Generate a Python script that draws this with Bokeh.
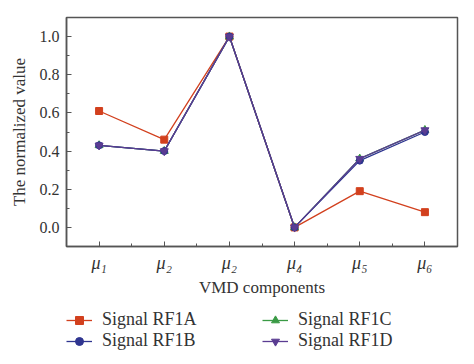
from bokeh.plotting import figure
from bokeh.layouts import column
from bokeh.models import FixedTicker, Legend, LegendItem, Range1d, NumeralTickFormatter
from bokeh.embed import file_html
from bokeh.resources import INLINE

components = ["μ₁", "μ₂", "μ₂", "μ₄", "μ₅", "μ₆"]
x_pos = [1, 2, 3, 4, 5, 6]
rf1a = [0.61, 0.46, 1.00, 0.00, 0.19, 0.08]
rf1b = [0.43, 0.40, 1.00, 0.00, 0.35, 0.50]
rf1c = [0.43, 0.40, 1.00, 0.00, 0.36, 0.51]
rf1d = [0.43, 0.40, 1.00, 0.00, 0.36, 0.51]
y_ticks = [0.0, 0.2, 0.4, 0.6, 0.8, 1.0]
series_labels = ["Signal RF1A", "Signal RF1B", "Signal RF1C", "Signal RF1D"]

FONT = "Liberation Serif"
RED = "#d2401e"
BLUE = "#2f3590"
GREEN = "#3a9a45"
PURPLE = "#5a3c92"

p = figure(frame_width=391, frame_height=229, output_backend="svg",
           toolbar_location=None, x_range=Range1d(0.5, 6.5), y_range=Range1d(-0.1, 1.1),
           min_border_left=66, min_border_top=17, min_border_right=17, min_border_bottom=0)
p.grid.visible = False
p.outline_line_color = "#555555"
p.outline_line_width = 1.5
p.background_fill_color = "white"
p.border_fill_color = "white"

p.xaxis.ticker = FixedTicker(ticks=x_pos, minor_ticks=[1.5, 2.5, 3.5, 4.5, 5.5])
p.xaxis.major_label_overrides = {x: lab for x, lab in zip(x_pos, components)}
p.yaxis.ticker = FixedTicker(ticks=y_ticks, minor_ticks=[-0.1, 0.1, 0.3, 0.5, 0.7, 0.9, 1.1])
p.yaxis.formatter = NumeralTickFormatter(format="0.0")
p.xaxis.axis_label = "VMD components"
p.yaxis.axis_label = "The normalized value"

for ax in (p.xaxis[0], p.yaxis[0]):
    ax.axis_line_color = "#555555"
    ax.axis_line_width = 1.5
    ax.major_tick_in = 5
    ax.major_tick_out = 0
    ax.minor_tick_in = 3
    ax.minor_tick_out = 0
    ax.major_tick_line_color = "#555555"
    ax.minor_tick_line_color = "#555555"
    ax.major_label_text_font = FONT
    ax.major_label_text_font_size = "18px"
    ax.major_label_text_color = "#333333"
    ax.axis_label_text_font = FONT
    ax.axis_label_text_font_size = "17px"
    ax.axis_label_text_font_style = "normal"
    ax.axis_label_text_color = "#333333"
p.xaxis.major_label_text_font_style = "italic"
p.xaxis.major_label_standoff = 6
p.xaxis.axis_label_standoff = 2
p.yaxis.axis_label_standoff = 8
p.yaxis.major_label_standoff = 7
p.yaxis.major_label_text_font_size = "16px"


def draw(fig, msize):
    la = fig.line(x_pos, rf1a, color=RED, line_width=1.3)
    ma = fig.scatter(x_pos, rf1a, marker="square", size=msize, color=RED)
    lc = fig.line(x_pos, rf1c, color=GREEN, line_width=1.3)
    mc = fig.scatter(x_pos, rf1c, marker="triangle", size=msize + 1, color=GREEN)
    lb = fig.line(x_pos, rf1b, color=BLUE, line_width=1.3)
    mb = fig.scatter(x_pos, rf1b, marker="circle", size=msize, color=BLUE)
    ld = fig.line(x_pos, rf1d, color=PURPLE, line_width=1.3)
    md = fig.scatter(x_pos, rf1d, marker="inverted_triangle", size=msize + 1, color=PURPLE)
    return [[la, ma], [lb, mb], [lc, mc], [ld, md]]


draw(p, 7)

# legend-only strip below the chart (its own copies of the series, out of view)
p2 = figure(width=474, height=68, output_backend="svg", toolbar_location=None,
            x_range=Range1d(-20, -19), y_range=Range1d(-20, -19),
            min_border=0, x_axis_type=None, y_axis_type=None)
p2.grid.visible = False
p2.outline_line_color = None
p2.background_fill_color = "white"
p2.border_fill_color = "white"
rends = draw(p2, 6)

legend = Legend(items=[LegendItem(label=lab, renderers=r) for lab, r in zip(series_labels, rends)],
                nrows=2, location=(0, 16), orientation="vertical")
legend.border_line_color = None
legend.background_fill_alpha = 0
legend.label_text_font = FONT
legend.label_text_font_size = "18px"
legend.label_text_color = "#333333"
legend.glyph_width = 26
legend.label_standoff = 10
legend.label_width = 160
legend.label_height = 20
legend.glyph_height = 20
legend.spacing = 0
legend.padding = 0
legend.margin = 0
p2.add_layout(legend, "center")

open("out.html", "w").write(file_html(column(p, p2, spacing=0), INLINE))
